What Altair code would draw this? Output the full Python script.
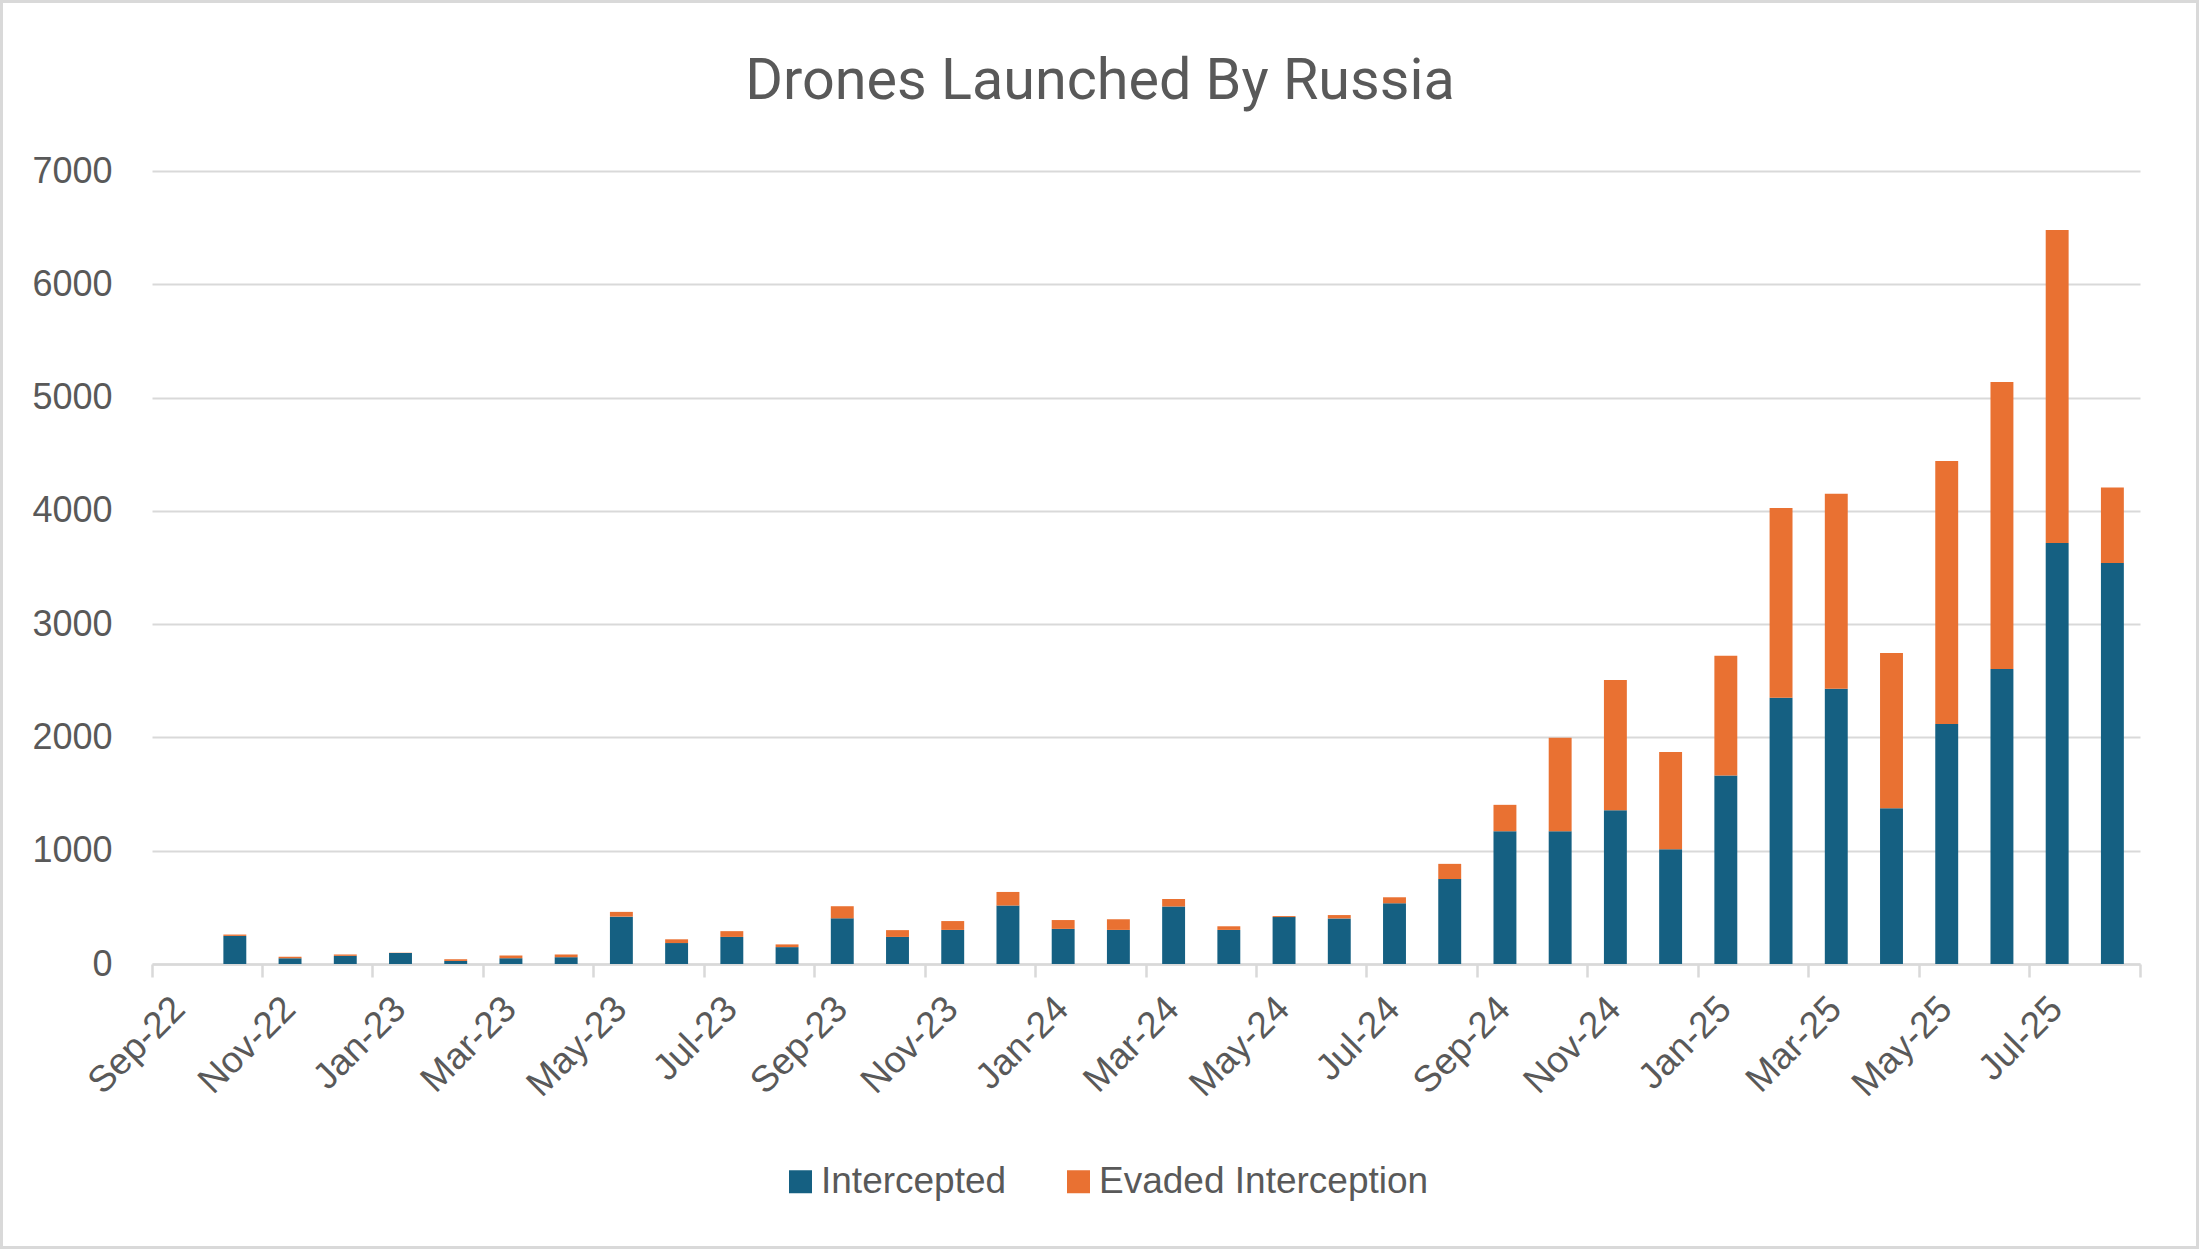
import altair as alt
import pandas as pd

# Axis categories (monthly), first month has no data
months = ["Sep-22", "Oct-22", "Nov-22", "Dec-22", "Jan-23", "Feb-23", "Mar-23", "Apr-23",
          "May-23", "Jun-23", "Jul-23", "Aug-23", "Sep-23", "Oct-23", "Nov-23", "Dec-23",
          "Jan-24", "Feb-24", "Mar-24", "Apr-24", "May-24", "Jun-24", "Jul-24", "Aug-24",
          "Sep-24", "Oct-24", "Nov-24", "Dec-24", "Jan-25", "Feb-25", "Mar-25", "Apr-25",
          "May-25", "Jun-25", "Jul-25", "Aug-25"]

data_months = months[1:]

intercepted = [248, 51, 72, 96, 27, 51, 60, 418, 185, 239, 149, 403, 239, 301, 516, 310,
               301, 508, 301, 414, 402, 536, 750, 1172, 1172, 1358, 1012, 1663, 2350, 2429,
               1375, 2119, 2605, 3716, 3540]

evaded = [12, 12, 12, 4, 15, 24, 24, 42, 33, 51, 24, 107, 60, 78, 120, 78,
          94, 66, 32, 9, 30, 53, 134, 233, 826, 1149, 859, 1059, 1676, 1721,
          1370, 2321, 2532, 2764, 667]

tick_months = months[0::2]          # Sep-22, Nov-22, ... Jul-25
series = ["Intercepted", "Evaded Interception"]
colors = ["#156082", "#E97132"]
y_ticks = [0, 1000, 2000, 3000, 4000, 5000, 6000, 7000]

rows = []
for m, a, b in zip(data_months, intercepted, evaded):
    rows.append({"month": m, "series": series[0], "value": a, "ord": 0})
    rows.append({"month": m, "series": series[1], "value": b, "ord": 1})
df = pd.DataFrame(rows)

W, H = 1988, 793
step = W / len(months)
TXT = "#595959"
GRID = "#d9d9d9"
FONT = "Liberation Sans"

xscale = alt.Scale(domain=months, paddingInner=0, paddingOuter=0)

bars = alt.Chart(df).mark_bar(width=alt.RelativeBandSize(0.415)).encode(
    x=alt.X("month:O", scale=xscale, sort=months,
            axis=alt.Axis(title=None, orient="bottom", values=tick_months, bandPosition=0,
                          labelOffset=step / 2 - 28, labelAngle=-45, labelAlign="right",
                          labelBaseline="middle", labelPadding=26, labelFontSize=37,
                          labelColor=TXT, labelFont=FONT, domainColor=GRID, domainWidth=2.5,
                          tickColor=GRID, tickWidth=2.5, tickSize=13, grid=False)),
    y=alt.Y("value:Q", stack="zero",
            scale=alt.Scale(domain=[0, 7000], nice=False),
            axis=alt.Axis(title=None, values=y_ticks, format="d", domain=False, ticks=False,
                          labelFontSize=36, labelColor=TXT, labelFont=FONT, labelPadding=40,
                          gridColor=GRID, gridWidth=2)),
    color=alt.Color("series:N", scale=alt.Scale(domain=series, range=colors),
                    legend=alt.Legend(title=None, orient="none", direction="horizontal",
                                      legendX=630, legendY=992, symbolType="square",
                                      symbolSize=529, symbolStrokeWidth=0, labelFontSize=37,
                                      labelColor=TXT, labelFont=FONT, labelOffset=2,
                                      columnPadding=53, labelLimit=600, padding=0)),
    order=alt.Order("ord:Q", sort="ascending"),
)

end_tick = alt.Chart(pd.DataFrame({"month": [months[-1]]})).mark_point(opacity=0).encode(
    x=alt.X("month:O", scale=xscale, sort=months,
            axis=alt.Axis(title=None, orient="bottom", values=[months[-1]], bandPosition=1,
                          labels=False, domain=False, tickColor=GRID, tickWidth=2.5,
                          tickSize=13, grid=False)),
)

frame = alt.Chart(alt.Data(values=[{"k": 1}])).mark_rect(
    fillOpacity=0, stroke=GRID, strokeWidth=3).encode(
    x=alt.value(-150.5), x2=alt.value(W + 57.5),
    y=alt.value(-169.5), y2=alt.value(H + 283.5),
)

chart = alt.layer(frame, bars, end_tick).resolve_axis(x="independent").properties(
    width=W, height=H,
    autosize=alt.AutoSizeParams(type="none"),
    padding={"left": 152, "top": 171, "right": 59, "bottom": 285},
    background="white",
    title=alt.TitleParams("Drones Launched By Russia", fontSize=57.5,
                          font="Roboto", color=TXT, fontWeight="normal",
                          anchor="middle", dx=-46, offset=-156, baseline="alphabetic"),
).configure_view(stroke=None)

chart.save("out.html", embed_options={"renderer": "svg", "actions": False})
